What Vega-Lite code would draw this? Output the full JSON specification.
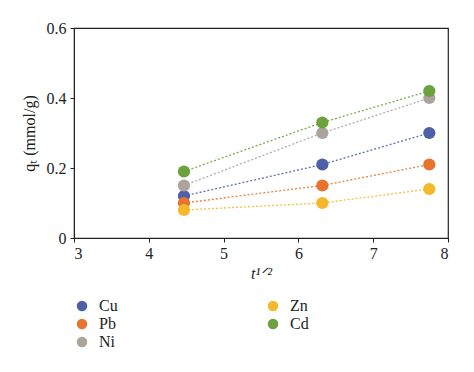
{
  "$schema": "https://vega.github.io/schema/vega-lite/v6.json",
  "width": 374,
  "height": 210,
  "autosize": {"type": "none"},
  "padding": {"left": 74, "top": 28, "right": 26, "bottom": 134},
  "background": "white",
  "config": {
    "view": {"stroke": "#222", "strokeWidth": 1.2},
    "font": "Liberation Serif",
    "axis": {
      "grid": false,
      "domainColor": "#222",
      "tickColor": "#222",
      "tickSize": 4,
      "labelFont": "Liberation Serif",
      "labelFontSize": 16,
      "labelColor": "#222",
      "titleFont": "Liberation Serif",
      "titleFontSize": 16,
      "titleFontWeight": "normal",
      "titleColor": "#222"
    },
    "legend": {
      "labelFont": "Liberation Serif"
    }
  },
  "data": {
    "values": [
      {"t": 4.47, "q": 0.12, "metal": "Cu"},
      {"t": 6.32, "q": 0.21, "metal": "Cu"},
      {"t": 7.75, "q": 0.30, "metal": "Cu"},
      {"t": 4.47, "q": 0.10, "metal": "Pb"},
      {"t": 6.32, "q": 0.15, "metal": "Pb"},
      {"t": 7.75, "q": 0.21, "metal": "Pb"},
      {"t": 4.47, "q": 0.15, "metal": "Ni"},
      {"t": 6.32, "q": 0.30, "metal": "Ni"},
      {"t": 7.75, "q": 0.40, "metal": "Ni"},
      {"t": 4.47, "q": 0.08, "metal": "Zn"},
      {"t": 6.32, "q": 0.10, "metal": "Zn"},
      {"t": 7.75, "q": 0.14, "metal": "Zn"},
      {"t": 4.47, "q": 0.19, "metal": "Cd"},
      {"t": 6.32, "q": 0.33, "metal": "Cd"},
      {"t": 7.75, "q": 0.42, "metal": "Cd"}
    ]
  },
  "encoding": {
    "x": {
      "field": "t", "type": "quantitative",
      "scale": {"domain": [3, 8], "nice": false, "zero": false},
      "axis": {"values": [3, 4, 5, 6, 7, 8], "title": "t¹ᐟ²", "titleFontStyle": "italic", "titlePadding": 4, "labelPadding": 3}
    },
    "y": {
      "field": "q", "type": "quantitative",
      "scale": {"domain": [0, 0.6], "nice": false},
      "axis": {"values": [0, 0.2, 0.4, 0.6], "title": "qₜ (mmol/g)", "titlePadding": 9, "labelPadding": 4,
               "labelExpr": "datum.value == 0 ? '0' : format(datum.value, '.1f')"}
    },
    "color": {
      "field": "metal", "type": "nominal",
      "scale": {
        "domain": ["Cu", "Zn", "Pb", "Cd", "Ni"],
        "range": ["#4E60A8", "#F5B82A", "#E8732F", "#6BA23E", "#ABA39C"]
      },
      "legend": {
        "title": null,
        "orient": "none",
        "legendX": 0,
        "legendY": 270,
        "direction": "horizontal",
        "columns": 2,
        "columnPadding": 147,
        "rowPadding": 2,
        "symbolType": "circle",
        "symbolSize": 110,
        "symbolStrokeWidth": 0,
        "symbolOpacity": 1,
        "labelFontSize": 16,
        "labelColor": "#222",
        "labelOffset": 9
      }
    }
  },
  "layer": [
    {
      "mark": {"type": "line", "strokeDash": [2, 2], "strokeWidth": 1.3, "opacity": 0.9}
    },
    {
      "mark": {"type": "circle", "size": 150, "opacity": 1}
    }
  ]
}
